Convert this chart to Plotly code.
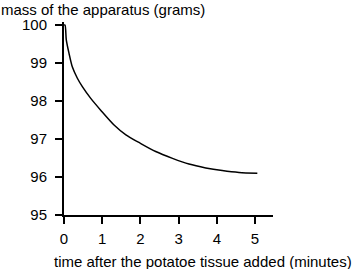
import plotly.graph_objects as go

time_min = [0.0, 0.026, 0.06, 0.13, 0.217, 0.35, 0.48, 0.70, 0.96, 1.31, 1.62, 1.96, 2.40, 2.84, 3.27, 3.71, 4.14, 4.58, 5.06]
mass_g = [100.0, 100.0, 99.61, 99.26, 98.90, 98.60, 98.38, 98.07, 97.76, 97.37, 97.11, 96.91, 96.67, 96.49, 96.34, 96.24, 96.17, 96.12, 96.10]
x_ticks = [0, 1, 2, 3, 4, 5]
y_ticks = [95, 96, 97, 98, 99, 100]
x_title = "time after the potatoe tissue added (minutes)"
y_title = "mass of the apparatus (grams)"

W, H = 353, 269
ml, mr, mt, mb = 64, 80, 22, 54
pw, ph = W - ml - mr, H - mt - mb

fig = go.Figure()
fig.add_trace(go.Scatter(x=time_min, y=mass_g, mode="lines",
                         line=dict(color="black", width=1.5, shape="spline", smoothing=0.8),
                         showlegend=False, hoverinfo="skip"))

fnt = dict(family="Liberation Sans, Arial, sans-serif", color="black")
fig.update_layout(
    width=W, height=H, margin=dict(l=ml, r=mr, t=mt, b=mb),
    paper_bgcolor="white", plot_bgcolor="white",
    font=dict(**fnt, size=14),
    xaxis=dict(range=[0, 5.47], tickvals=x_ticks, ticktext=[str(v) for v in x_ticks],
               showgrid=False, zeroline=False, showline=True, linecolor="black", linewidth=2,
               ticks="outside", ticklen=7, tickwidth=2, tickcolor="black",
               tickfont=dict(**fnt, size=15), ticklabelstandoff=2),
    yaxis=dict(range=[95, 100.08], tickvals=y_ticks, ticktext=[str(v) for v in y_ticks],
               showgrid=False, zeroline=False, showline=True, linecolor="black", linewidth=2,
               ticks="outside", ticklen=7, tickwidth=2, tickcolor="black",
               tickfont=dict(**fnt, size=15), ticklabelstandoff=5),
    annotations=[
        dict(text=y_title, xref="paper", yref="paper", x=-ml / pw, y=1 + mt / ph,
             xanchor="left", yanchor="top", showarrow=False, borderpad=0,
             font=dict(**fnt, size=15)),
        dict(text=x_title, xref="paper", yref="paper", x=1 + mr / pw, y=-(mb + 2) / ph,
             xanchor="right", yanchor="bottom", showarrow=False, borderpad=0,
             font=dict(**fnt, size=15)),
    ],
)
fig.write_html("out.html")
